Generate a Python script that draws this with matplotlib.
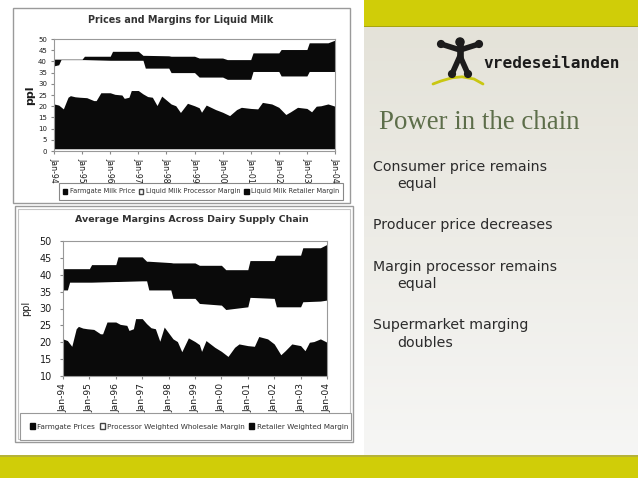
import numpy as np
import matplotlib
matplotlib.use("Agg")
import matplotlib.pyplot as plt
from matplotlib.patches import Patch, Rectangle

W, H = 638, 478

# month offsets from Jan-94, shared by the farmgate series of both charts
farm_months = [0, 2, 4, 6, 7, 9, 11, 14, 17, 18, 20, 24, 26, 29, 30, 32, 33, 36, 38, 40, 42, 44,
               46, 50, 52, 54, 57, 60, 62, 63, 65, 69, 72, 75, 78, 80, 84, 87, 89, 93, 96, 99,
               101, 104, 108, 110, 112, 114, 117, 120]
farm_values = [21, 20.5, 18.8, 24, 24.7, 24.2, 24, 23.8, 22.5, 22.5, 26, 26, 25.3, 25, 23.5, 24, 27, 27,
               25.5, 24.3, 24, 20.3, 24.5, 21, 20.2, 17.2, 21.3, 20.2, 19.3, 17.3, 20.5, 18.5, 17.3, 15.8,
               18.5, 19.5, 19, 18.8, 21.7, 21, 19.5, 16.3, 17.5, 19.5, 19, 17.5, 20, 20.2, 21, 20]

# retailer band, one pair of edges per month offset
band_months = [0, 2, 3, 12, 13, 24, 25, 36, 38, 39, 49, 50, 60, 62, 72, 74, 84, 85, 96, 97, 108, 109, 117, 120]
top_lower = [38, 38.5, 40.8, 40.8, 40.8, 40.5, 40.5, 40.5, 40.5, 37, 37, 35, 35, 33, 33, 32, 32, 35.5, 35.5, 33.5,
             33.5, 35.5, 35.5, 35.5]
top_upper = [41, 41, 41, 41, 42.3, 42.3, 44.5, 44.5, 42.7, 42.7, 42.5, 42.3, 42.3, 41.5, 41.5, 40.8, 40.8, 43.8,
             43.8, 45.3, 45.3, 48.3, 48.3, 49.5]
bot_lower = [35.5, 35.5, 37.8, 37.8, 37.8, 38, 38, 38.2, 38.2, 35.5, 35.5, 33, 33, 31.5, 31, 29.7, 30.5, 33.3,
             33, 30.5, 30.5, 32, 32.2, 32.5]
bot_upper = [41.8, 41.8, 41.8, 41.8, 43, 43, 45.3, 45.3, 44, 44, 43.6, 43.5, 43.5, 42.8, 42.8, 41.5, 41.5, 44.2,
             44.2, 45.8, 45.8, 48, 48, 49]

tick_months = [0, 12, 24, 36, 48, 60, 72, 84, 96, 108, 120]
tick_labels = ["Jan-94", "Jan-95", "Jan-96", "Jan-97", "Jan-98", "Jan-99", "Jan-00", "Jan-01", "Jan-02", "Jan-03", "Jan-04"]
top_ticks = list(range(0, 55, 5))
bot_ticks = list(range(10, 55, 5))

YELLOW = "#d0cd08"
GREEN = "#5d6e4a"
INK = "#1c1c1c"


def px_axes(fig, left, top, right, bottom, **kw):
    # axes from pixel box, y measured from the top of the image
    return fig.add_axes([left / W, 1 - bottom / H, (right - left) / W, (bottom - top) / H], **kw)


def draw_chart(ax, lower, upper, ymin, base, ticks, rot, xsize, ysize, ypad, legend_names, legend_box, legend_size,
               ylab_size, ylab_weight, ylab_pad):
    ax.fill_between(farm_months, base, farm_values, color="#0a0a0a", lw=0)
    ax.fill_between(band_months, lower, upper, color="#0a0a0a", lw=0)
    ax.set_xlim(0, 120)
    ax.set_ylim(ymin, 50)
    ax.set_xticks(tick_months)
    ax.set_xticklabels(tick_labels, rotation=rot, ha="center", va="top", fontsize=xsize, color=INK)
    ax.set_yticks(ticks)
    ax.tick_params(axis="y", labelsize=ysize, labelcolor=INK, length=2, pad=ypad, color="#888888")
    ax.tick_params(axis="x", length=2, pad=3, color="#888888")
    for s in ax.spines.values():
        s.set_color("#999999")
        s.set_linewidth(0.8)
    ax.set_ylabel("ppl", fontsize=ylab_size, fontweight=ylab_weight, color=INK, labelpad=ylab_pad)
    handles = [Patch(fc="#0a0a0a", ec="#0a0a0a"), Patch(fc="white", ec="#444444"), Patch(fc="#0a0a0a", ec="#0a0a0a")]
    ax.legend(handles, legend_names, ncol=3, loc="center", bbox_to_anchor=legend_box,
              bbox_transform=fig.transFigure, fontsize=legend_size, frameon=False,
              handlelength=0.7, handleheight=0.7, handletextpad=0.35, columnspacing=legend_size * 0.12,
              labelcolor="#333333", borderpad=0, borderaxespad=0)


fig = plt.figure(figsize=(W / 100, H / 100), dpi=100, facecolor="white")

# slide background in pixel coordinates
bg = fig.add_axes([0, 0, 1, 1], zorder=0)
paper = np.linspace(0, 1, 100)[:, None]
paper = np.dstack([0.895 + 0.07 * paper, 0.888 + 0.077 * paper, 0.85 + 0.11 * paper])
bg.imshow(paper, extent=[364, W, 456, 27], aspect="auto", zorder=1)
bg.set_xlim(0, W)
bg.set_ylim(H, 0)
bg.axis("off")
bg.add_patch(Rectangle((364, 0), W - 364, 27, fc=YELLOW, ec="none", zorder=2))
bg.add_patch(Rectangle((364, 25.5), W - 364, 1.5, fc="#a8a510", ec="none", zorder=3))
bg.add_patch(Rectangle((0, 456), W, 22, fc=YELLOW, ec="none", zorder=2))
bg.add_patch(Rectangle((0, 455), W, 1.5, fc="#b5b23a", ec="none", zorder=3))

# scanned chart frames
bg.add_patch(Rectangle((13, 8), 337, 195, fc="white", ec="#9a9a9a", lw=1, zorder=2))
bg.add_patch(Rectangle((15, 206), 338, 236, fc="white", ec="#9a9a9a", lw=1, zorder=2))
bg.add_patch(Rectangle((18, 209), 332, 230, fc="none", ec="#c4c4c4", lw=0.8, zorder=2))
bg.add_patch(Rectangle((59, 183), 284, 17, fc="white", ec="#888888", lw=0.8, zorder=2))
bg.add_patch(Rectangle((20, 413), 331, 27, fc="white", ec="#999999", lw=0.8, zorder=2))

bg.text(181, 20, "Prices and Margins for Liquid Milk", ha="center", va="center", fontsize=6.9,
        fontweight="bold", color="#333333", zorder=5)
bg.text(192, 219, "Average Margins Across Dairy Supply Chain", ha="center", va="center", fontsize=6.8,
        fontweight="bold", color="#333333", zorder=5)

# logo
lw = 4
bg.plot([441, 460, 479], [44, 50, 44], color=INK, lw=lw, solid_capstyle="round", zorder=5)
bg.plot([452, 460, 468], [74, 56, 74], color=INK, lw=lw, solid_capstyle="round", zorder=5)
bg.plot([460, 460], [43, 58], color=INK, lw=lw + 0.8, zorder=5)
bg.scatter([441, 460, 479, 452, 468], [44, 42, 44, 74, 74], s=[24, 34, 24, 24, 24], color=INK, zorder=6)
curve_x = [433, 441, 452, 462, 474, 483]
curve_y = [84, 81, 77.8, 76.8, 79, 84]
bg.plot(curve_x, curve_y, color="#c9c712", lw=2, solid_capstyle="round", zorder=5)
bg.text(483, 63.5, "vredeseilanden", ha="left", va="center", fontsize=11.6, fontweight="bold",
        color=INK, fontfamily="DejaVu Sans Mono", zorder=5)

# slide text
bg.text(379, 122, "Power in the chain", ha="left", va="center", fontsize=19.4,
        fontfamily="Liberation Serif", color=GREEN, zorder=5)
body = [("Consumer price remains", 373, 167), ("equal", 397, 184), ("Producer price decreases", 373, 225),
        ("Margin processor remains", 373, 267), ("equal", 397, 284), ("Supermarket marging", 373, 325),
        ("doubles", 397, 343)]
for txt, x, y in body:
    bg.text(x, y, txt, ha="left", va="center", fontsize=10.2, color="#2b2b2b", zorder=5)

ax_top = px_axes(fig, 54, 39, 335, 151, zorder=2, facecolor="white")
draw_chart(ax_top, top_lower, top_upper, 0, 1, top_ticks, -90, 5.6, 5.0, 3,
           ["Farmgate Milk Price", "Liquid Milk Processor Margin", "Liquid Milk Retailer Margin"],
           (201 / W, 1 - 191.5 / H), 4.8, 8, "bold", 2)

ax_bot = px_axes(fig, 63, 241, 327, 376, zorder=2, facecolor="white")
draw_chart(ax_bot, bot_lower, bot_upper, 10, 10, bot_ticks, 90, 6.6, 6.9, 6,
           ["Farmgate Prices", "Processor Weighted Wholesale Margin", "Retailer Weighted Margin"],
           (189 / W, 1 - 426.5 / H), 5.2, 7, "normal", 6)

fig.savefig("out.png", dpi=100)
